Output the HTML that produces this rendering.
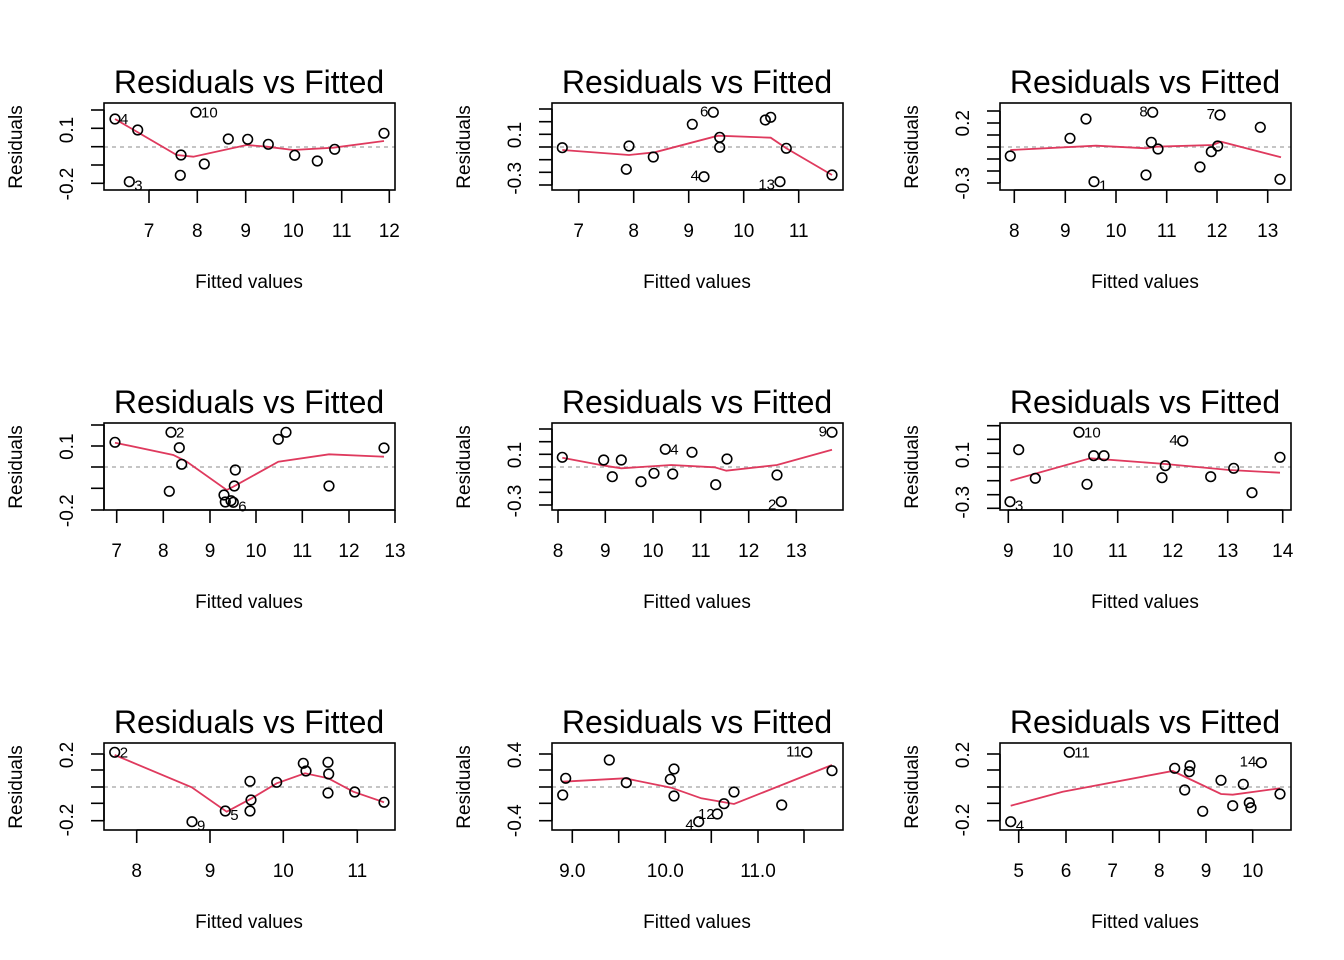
<!DOCTYPE html>
<html><head><meta charset="utf-8"><style>
html,body{margin:0;padding:0;background:#fff;}
svg{display:block;font-family:"Liberation Sans",Arial,sans-serif;}
</style></head><body>
<svg id="s" width="1344" height="960" viewBox="0 0 1344 960" xmlns="http://www.w3.org/2000/svg"></svg>
<script>
const P=[
{c:0,r:0,yt:[45,100,155,210,265],yl:[["0.1",105],["-0.2",267]],xt:[[447,"7"],[592,"8"],[737,"9"],[880,"10"],[1025,"11"],[1168,"12"]],
pts:[[345,72,"4",1],[413,105],[388,260,"3",2],[588,52,"10",1],[543,180],[541,241],[613,207],[685,132],[743,133],[805,148],[884,181],[952,198],[1004,163],[1152,115]],
red:[[345,72],[530,180],[580,185],[740,150],[800,155],[880,165],[1000,158],[1152,138]]},
{c:1,r:0,yt:[42,80,118,156,194,232,270],yl:[["0.1",120],["-0.3",250]],xt:[[392,"7"],[557,"8"],[722,"9"],[887,"10"],[1052,"11"]],
pts:[[343,158],[543,153],[535,223],[616,186],[733,88],[796,52,"6",3],[768,245,"4",3],[815,127],[815,157],[952,75],[968,67],[996,260,"13",4],[1015,160],[1152,240]],
red:[[343,165],[543,180],[620,172],[810,122],[968,128],[1015,160],[1152,240]]},
{c:2,r:0,yt:[48,84,120,156,192,228,264],yl:[["0.2",85],["-0.3",265]],xt:[[355,"8"],[508,"9"],[660,"10"],[812,"11"],[963,"12"],[1115,"13"]],
pts:[[343,183],[522,130],[570,72],[594,260,"1",2],[770,52,"8",3],[750,240],[766,142],[786,162],[912,216],[946,170],[965,153],[972,60,"7",3],[1093,97],[1152,253]],
red:[[343,165],[600,152],[750,160],[780,155],[950,150],[975,140],[1155,187]]},
{c:0,r:1,yt:[30,93,156,220,285],yl:[["0.1",95],["-0.2",287]],xt:[[350,"7"],[490,"8"],[630,"9"],[768,"10"],[907,"11"],[1047,"12"],[1185,"13"]],
pts:[[345,82],[513,52,"2",1],[538,98],[545,148],[508,229],[706,165],[703,213],[672,240],[676,261],[693,257],[700,262,"6",2],[835,73],[858,52],[987,213],[1152,99]],
red:[[345,83],[520,120],[560,140],[680,225],[700,215],[835,140],[987,118],[1152,125]]},
{c:1,r:1,yt:[42,80,118,156,194,232,270],yl:[["0.1",120],["-0.3",258]],xt:[[330,"8"],[472,"9"],[615,"10"],[758,"11"],[902,"12"],[1045,"13"]],
pts:[[343,127],[467,135],[493,185],[520,135],[579,200],[618,175],[652,103,"4",1],[674,177],[732,112],[803,209],[837,132],[987,180],[1000,260,"2",4],[1152,52,"9",3]],
red:[[343,128],[470,152],[520,160],[670,150],[800,157],[835,167],[987,150],[1152,104]]},
{c:2,r:1,yt:[32,73,115,156,197,239,280],yl:[["0.1",120],["-0.3",262]],xt:[[337,"9"],[500,"10"],[665,"11"],[830,"12"],[995,"13"],[1160,"14"]],
pts:[[342,260,"3",2],[368,104],[418,190],[549,52,"10",1],[573,208],[593,122],[624,122],[798,188],[808,152],[860,78,"4",3],[944,185],[1013,160],[1068,233],[1152,127]],
red:[[343,197],[583,130],[808,147],[1000,165],[1152,173]]},
{c:0,r:2,yt:[57,105,156,205,257],yl:[["0.2",60],["-0.2",255]],xt:[[410,"8"],[630,"9"],[850,"10"],[1072,"11"]],
pts:[[344,52,"2",1],[576,260,"9",2],[676,228,"5",2],[750,139],[753,195],[750,228],[830,142],[910,85],[918,108],[984,82],[986,117],[984,174],[1064,171],[1152,202]],
red:[[344,60],[575,157],[680,230],[755,190],[830,145],[915,115],[985,130],[1060,170],[1152,202]]},
{c:1,r:2,yt:[57,105,156,205,257],yl:[["0.4",60],["-0.4",257]],xt:[[373,"9.0"],[512,""],[652,"10.0"],[790,""],[930,"11.0"],[1068,""]],
pts:[[344,180],[353,130],[484,75],[535,143],[667,133],[678,102],[678,183],[752,260,"4",4],[808,237],[828,206],[858,171],[1001,210],[1076,52,"11",3],[1152,107]],
red:[[344,140],[530,130],[670,158],[760,190],[858,207],[1152,90]],extra:[[775,252,"12"]]},
{c:2,r:2,yt:[57,105,156,205,257],yl:[["0.2",60],["-0.2",255]],xt:[[368,"5"],[510,"6"],[650,"7"],[790,"8"],[930,"9"],[1070,"10"]],
pts:[[344,260,"4",2],[520,52,"11",1],[836,100],[882,92],[880,110],[866,165],[920,229],[975,136],[1010,212],[1042,148],[1060,203],[1065,218],[1096,83,"14",3],[1152,177]],
red:[[344,212],[500,170],[830,108],[975,177],[1010,179],[1152,160]]}
];
let h='';
for(const p of P){
 const ox=448*p.c, oy=95+320*p.r;
 const X=v=>(v/3+ox).toFixed(1), Y=v=>(v/3+oy).toFixed(1);
 const bx=104+ox, by=103+320*p.r, bw=291, bh=87;
 h+=`<text x="${249+ox}" y="${93+320*p.r}" font-size="32" text-anchor="middle">Residuals vs Fitted</text>`;
 h+=`<text x="${249+ox}" y="${288+320*p.r}" font-size="19" text-anchor="middle">Fitted values</text>`;
 h+=`<text transform="translate(${22+ox},${147+320*p.r}) rotate(-90)" font-size="19" text-anchor="middle">Residuals</text>`;
 h+=`<line x1="${bx}" x2="${bx+bw}" y1="${Y(156)}" y2="${Y(156)}" stroke="#bdbdbd" stroke-width="1.8" stroke-dasharray="4,4"/>`;
 h+=`<polyline fill="none" stroke="#df3a5e" stroke-width="1.8" points="${p.red.map(q=>X(q[0])+','+Y(q[1])).join(' ')}"/>`;
 for(const q of p.pts){
  h+=`<circle cx="${X(q[0])}" cy="${Y(q[1])}" r="4.8" fill="none" stroke="#000" stroke-width="1.6"/>`;
  if(q[2]){
   const x=+X(q[0]), y=+Y(q[1]);
   let tx,ty,a;
   if(q[3]==1){tx=x+5;ty=y+5;a='start';}
   else if(q[3]==2){tx=x+5;ty=y+9;a='start';}
   else if(q[3]==3){tx=x-5;ty=y+4;a='end';}
   else {tx=x-5;ty=y+8;a='end';}
   h+=`<text x="${tx}" y="${ty}" font-size="15" text-anchor="${a}">${q[2]}</text>`;
  }
 }
 if(p.extra)for(const e of p.extra)h+=`<text x="${X(e[0])}" y="${Y(e[1])}" font-size="15" text-anchor="middle">${e[2]}</text>`;
 h+=`<rect x="${bx}" y="${by}" width="${bw}" height="${bh}" fill="none" stroke="#000" stroke-width="1.6"/>`;
 for(const t of p.yt){h+=`<line x1="${bx-13}" x2="${bx}" y1="${Y(t)}" y2="${Y(t)}" stroke="#000" stroke-width="1.6"/>`;}
 h+=`<line x1="${bx}" x2="${bx}" y1="${Y(p.yt[0])}" y2="${Y(p.yt[p.yt.length-1])}" stroke="#000" stroke-width="1.6"/>`;
 for(const l of p.yl){h+=`<text transform="translate(${73+ox},${Y(l[1])}) rotate(-90)" font-size="19" text-anchor="middle">${l[0]}</text>`;}
 for(const t of p.xt){h+=`<line x1="${X(t[0])}" x2="${X(t[0])}" y1="${by+bh}" y2="${by+bh+13}" stroke="#000" stroke-width="1.6"/>`;
  if(t[1])h+=`<text x="${X(t[0])}" y="${237+320*p.r}" font-size="19" text-anchor="middle">${t[1]}</text>`;}
 h+=`<line x1="${X(p.xt[0][0])}" x2="${X(p.xt[p.xt.length-1][0])}" y1="${by+bh}" y2="${by+bh}" stroke="#000" stroke-width="1.6"/>`;
}
document.getElementById('s').innerHTML=h;
</script>
</body></html>
